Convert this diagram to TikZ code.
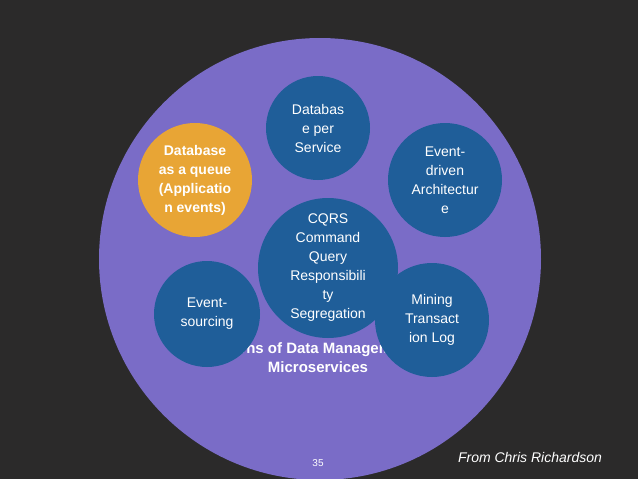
\documentclass[tikz,border=0pt]{standalone}
\usepackage{fontspec}
\setmainfont{Liberation Sans}
\begin{document}
\begin{tikzpicture}[x=1pt,y=-1pt,
  sm/.style={circle,fill=blue1,text=white,align=center,font=\fontsize{14}{19}\selectfont,inner sep=0pt},
  ]
\definecolor{bg}{HTML}{2B2A2A}
\definecolor{purp}{HTML}{7A6CC7}
\definecolor{blue1}{HTML}{1F5E99}
\definecolor{orng}{HTML}{E8A535}
\fill[bg] (0,0) rectangle (638,479);
\useasboundingbox (0,0) rectangle (638,479);
\fill[purp] (320,259) circle (221);
\node[font=\bfseries\fontsize{15}{19}\selectfont,text=white,align=center] (t) at (318,358) {Patterns of Data Management in\\Microservices};
\node[sm,minimum size=104] (a) at (318,128) {Databas\\e per\\Service};
\node[sm,minimum size=114] (b) at (445,180) {Event-\\driven\\Architectur\\e};
\node[sm,minimum size=114,fill=orng,font=\bfseries\fontsize{14}{19}\selectfont] (c) at (195,180) {Database\\as a queue\\(Applicatio\\n events)};
\node[sm,minimum size=140] (d) at (328,268) {CQRS\\Command\\Query\\Responsibili\\ty\\Segregation};
\node[sm,minimum size=106] (e) at (207,314) {Event-\\sourcing};
\node[sm,minimum size=114] (f) at (432,320) {Mining\\Transact\\ion Log};
\node[text=white,font=\fontsize{10}{12}\selectfont] (n) at (318,463) {35};
\node[text=white,font=\itshape\fontsize{14}{16}\selectfont] (r) at (530,457) {From Chris Richardson};
\end{tikzpicture}
\end{document}
